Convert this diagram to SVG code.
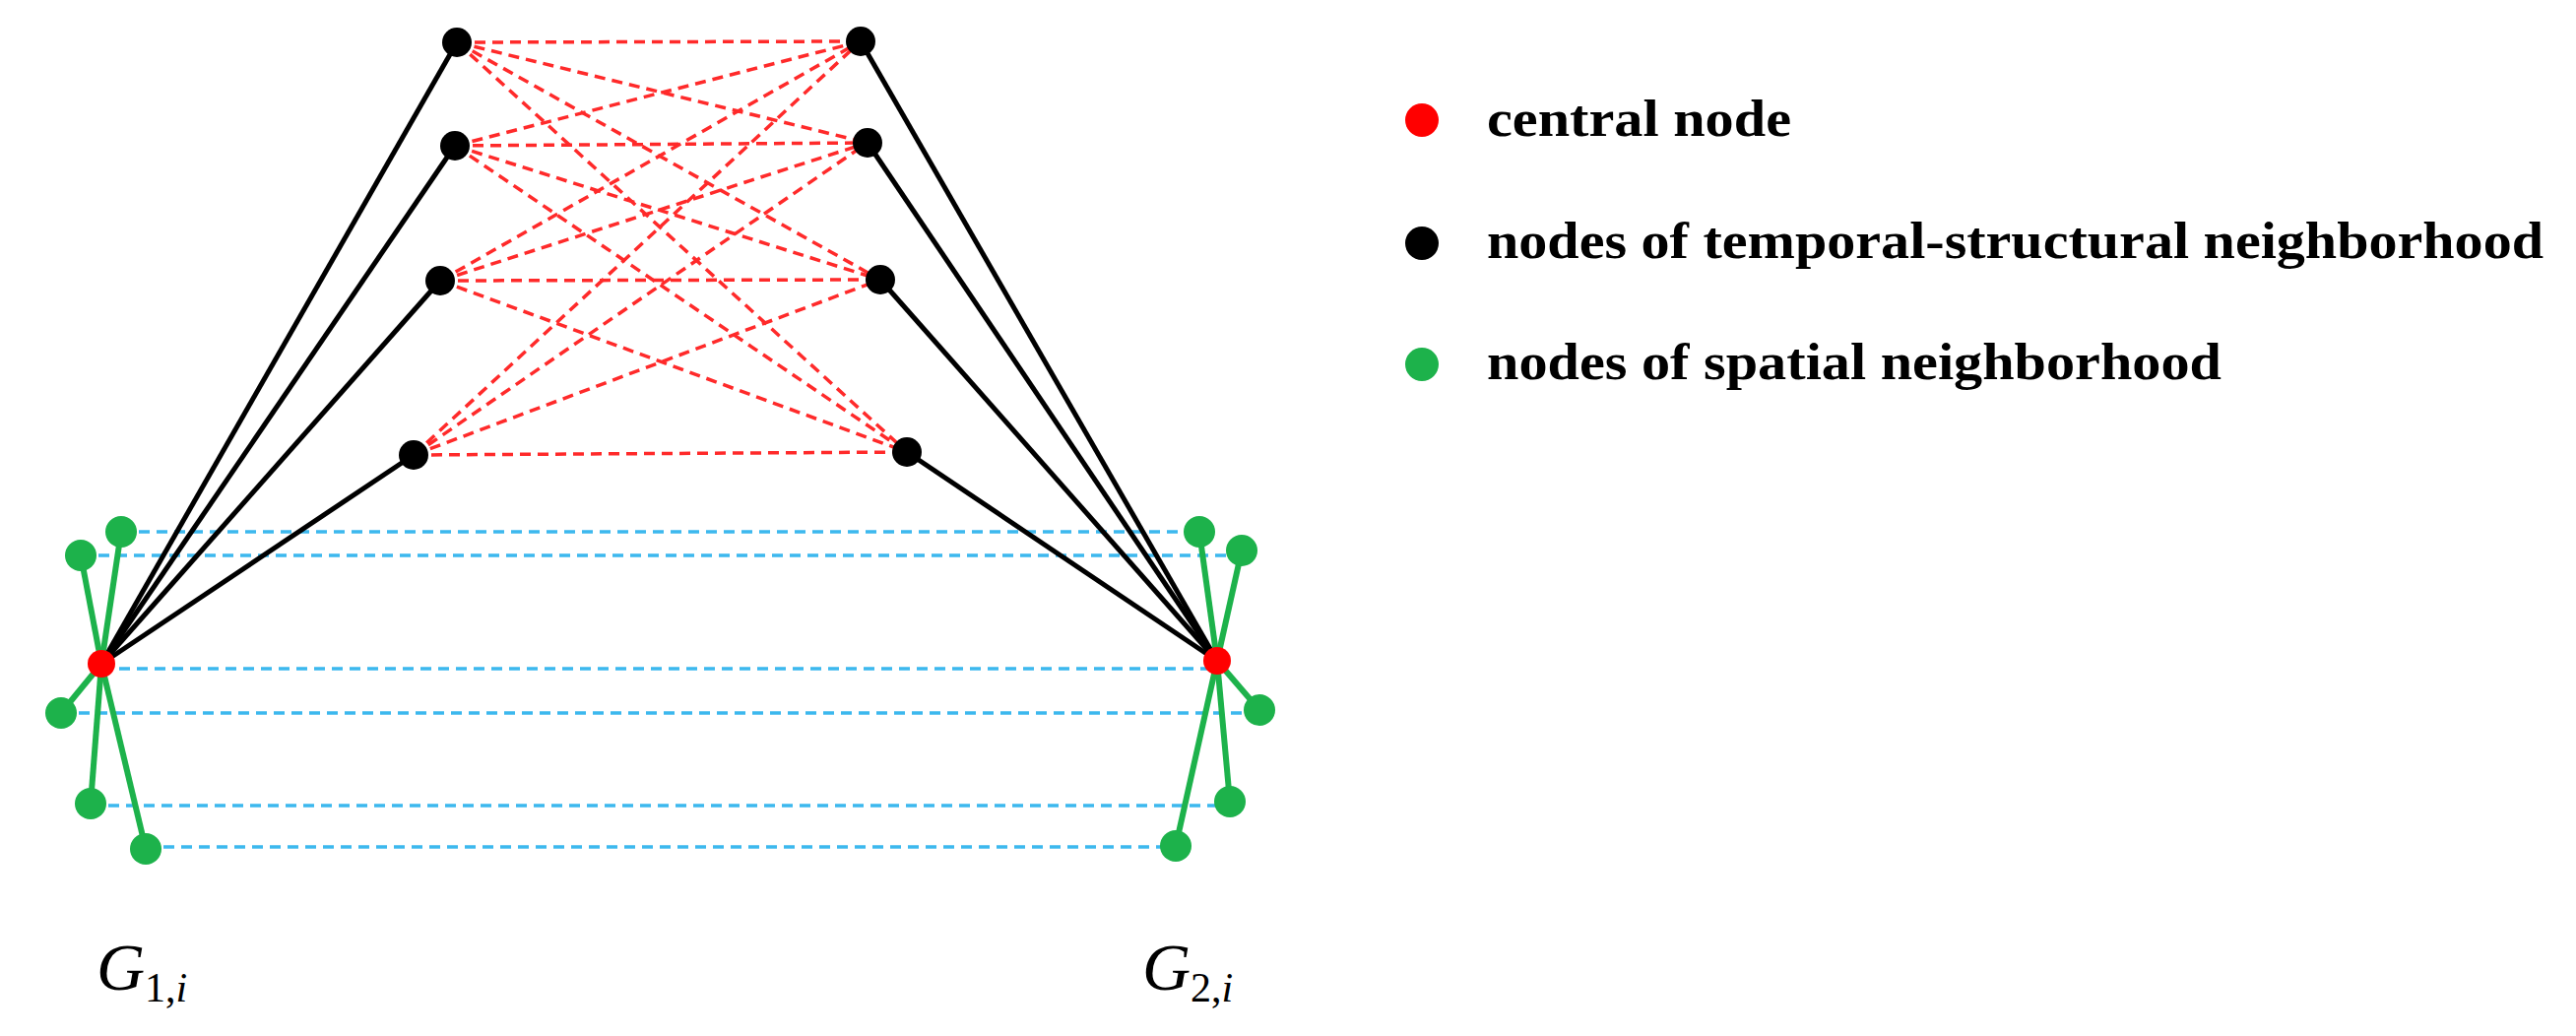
<svg xmlns="http://www.w3.org/2000/svg" width="2616" height="1052" viewBox="0 0 2616 1052">
<style>
.blk{stroke:#000;stroke-width:5;fill:none}
.grn{stroke:#1db24b;stroke-width:6;fill:none}
.rd{stroke:#ff2a2a;stroke-width:3.5;stroke-dasharray:11 7;fill:none}
.bl{stroke:#3cb8ee;stroke-width:3.5;stroke-dasharray:11 7;fill:none}
.nb{fill:#000}.ng{fill:#1db24b}.nr{fill:#f00}
.lg{font-family:"Liberation Serif",serif;font-weight:bold;font-size:52px;fill:#000}
.gl{font-family:"Liberation Serif",serif;font-style:italic;font-size:68px;fill:#000}
.sub{font-family:"Liberation Serif",serif;font-size:42px}
</style>
<g id="connectors">
<g class="rd">
<line x1="464" y1="43" x2="874" y2="42"/><line x1="464" y1="43" x2="881" y2="145"/><line x1="464" y1="43" x2="894" y2="284"/><line x1="464" y1="43" x2="921" y2="459"/>
<line x1="462" y1="148" x2="874" y2="42"/><line x1="462" y1="148" x2="881" y2="145"/><line x1="462" y1="148" x2="894" y2="284"/><line x1="462" y1="148" x2="921" y2="459"/>
<line x1="447" y1="285" x2="874" y2="42"/><line x1="447" y1="285" x2="881" y2="145"/><line x1="447" y1="285" x2="894" y2="284"/><line x1="447" y1="285" x2="921" y2="459"/>
<line x1="420" y1="462" x2="874" y2="42"/><line x1="420" y1="462" x2="881" y2="145"/><line x1="420" y1="462" x2="894" y2="284"/><line x1="420" y1="462" x2="921" y2="459"/>
</g>
<g class="bl">
<line x1="123" y1="540" x2="1218" y2="540"/><line x1="82" y1="564" x2="1261" y2="564"/>
<line x1="103" y1="679" x2="1236" y2="679"/><line x1="62" y1="724" x2="1279" y2="724"/>
<line x1="92" y1="818" x2="1249" y2="818"/><line x1="148" y1="860" x2="1194" y2="860"/>
</g>
<g class="blk">
<line x1="103" y1="674" x2="464" y2="43"/><line x1="103" y1="674" x2="462" y2="148"/><line x1="103" y1="674" x2="447" y2="285"/><line x1="103" y1="674" x2="420" y2="462"/>
<line x1="1236" y1="671" x2="874" y2="42"/><line x1="1236" y1="671" x2="881" y2="145"/><line x1="1236" y1="671" x2="894" y2="284"/><line x1="1236" y1="671" x2="921" y2="459"/>
</g>
<g class="grn">
<line x1="103" y1="674" x2="123" y2="540"/><line x1="103" y1="674" x2="82" y2="564"/><line x1="103" y1="674" x2="62" y2="724"/><line x1="103" y1="674" x2="92" y2="816"/><line x1="103" y1="674" x2="148" y2="862"/>
<line x1="1236" y1="671" x2="1218" y2="540"/><line x1="1236" y1="671" x2="1261" y2="559"/><line x1="1236" y1="671" x2="1279" y2="721"/><line x1="1236" y1="671" x2="1249" y2="814"/><line x1="1236" y1="671" x2="1194" y2="859"/>
</g>
</g>
<g id="nodes-left-temporal"><circle class="nb" cx="464" cy="43" r="15"/><circle class="nb" cx="462" cy="148" r="15"/><circle class="nb" cx="447" cy="285" r="15"/><circle class="nb" cx="420" cy="462" r="15"/></g>
<g id="nodes-right-temporal"><circle class="nb" cx="874" cy="42" r="15"/><circle class="nb" cx="881" cy="145" r="15"/><circle class="nb" cx="894" cy="284" r="15"/><circle class="nb" cx="921" cy="459" r="15"/></g>
<g id="nodes-left-spatial"><circle class="ng" cx="123" cy="540" r="16"/><circle class="ng" cx="82" cy="564" r="16"/><circle class="ng" cx="62" cy="724" r="16"/><circle class="ng" cx="92" cy="816" r="16"/><circle class="ng" cx="148" cy="862" r="16"/></g>
<g id="nodes-right-spatial"><circle class="ng" cx="1218" cy="540" r="16"/><circle class="ng" cx="1261" cy="559" r="16"/><circle class="ng" cx="1279" cy="721" r="16"/><circle class="ng" cx="1249" cy="814" r="16"/><circle class="ng" cx="1194" cy="859" r="16"/></g>
<g id="central-left"><circle class="nr" cx="103" cy="674" r="14"/></g>
<g id="central-right"><circle class="nr" cx="1236" cy="671" r="14"/></g>
<g id="label-g1"><text class="gl" x="98" y="1005">G<tspan class="sub" dy="12" font-style="normal">1,</tspan><tspan class="sub" font-style="italic">i</tspan></text></g>
<g id="label-g2"><text class="gl" x="1160" y="1005">G<tspan class="sub" dy="12" font-style="normal">2,</tspan><tspan class="sub" font-style="italic">i</tspan></text></g>
<g id="legend">
<circle class="nr" cx="1444" cy="122" r="17"/><text class="lg" x="1510" y="138" textLength="309" lengthAdjust="spacingAndGlyphs">central node</text>
<circle class="nb" cx="1444" cy="247" r="17"/><text class="lg" x="1510" y="262" textLength="1073" lengthAdjust="spacingAndGlyphs">nodes of temporal-structural neighborhood</text>
<circle class="ng" cx="1444" cy="370" r="17"/><text class="lg" x="1510" y="385" textLength="746" lengthAdjust="spacingAndGlyphs">nodes of spatial neighborhood</text>
</g>
</svg>
